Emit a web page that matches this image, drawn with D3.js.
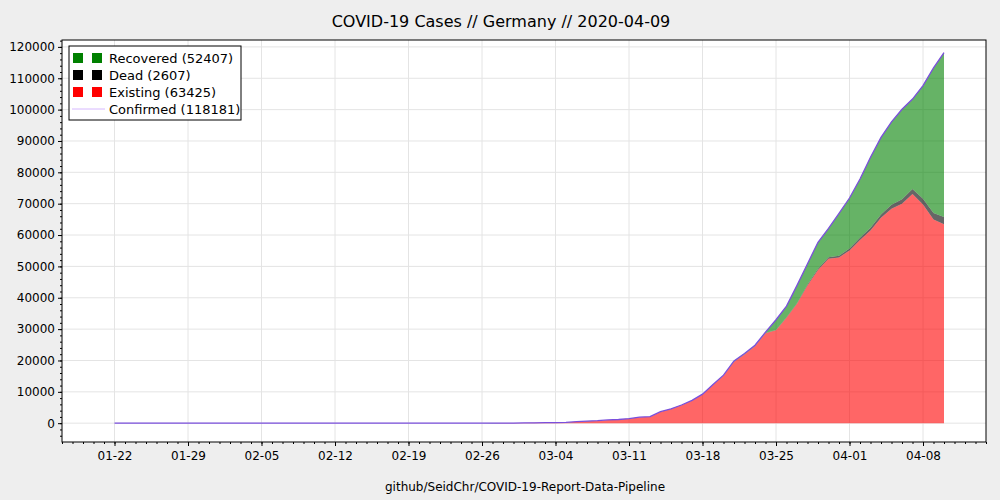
<!DOCTYPE html>
<html><head><meta charset="utf-8">
<script src="https://cdn.jsdelivr.net/npm/d3@7"></script>
<style>body{margin:0;background:#eeeeee}text{font-family:"DejaVu Sans",sans-serif}</style>
</head><body><div id="chart"></div>
<script>
var width = 1000, height = 500
var margin = {left: 62, right: 14, top: 40, bottom: 58}

var confirmed = [0,0,0,0,0,1,4,4,4,5,8,10,12,12,12,12,13,13,14,14,16,16,16,16,16,16,16,16,16,16,16,16,16,16,16,17,27,46,48,79,130,159,196,262,482,670,799,1040,1176,1457,1908,2078,3675,4585,5795,7272,9257,12327,15320,19848,22213,24873,29056,32986,37323,43938,50871,57695,62095,66885,71808,77872,84794,91159,96092,100123,103374,107663,113296,118181]
var dead = [0,0,0,0,0,0,0,0,0,0,0,0,0,0,0,0,0,0,0,0,0,0,0,0,0,0,0,0,0,0,0,0,0,0,0,0,0,0,0,0,0,0,0,0,0,0,0,0,0,2,2,3,3,7,9,11,17,24,28,44,67,84,94,123,157,206,267,342,433,533,645,775,920,1107,1275,1444,1584,1810,2016,2349,2607]
var recovered = [0,0,0,0,0,0,0,0,0,0,0,0,0,0,0,0,0,0,0,0,0,1,1,1,1,1,1,1,1,1,1,1,1,14,14,14,15,16,16,16,16,16,16,16,16,16,17,18,18,18,25,25,46,46,46,67,67,105,113,180,233,266,266,3243,3547,5673,6658,8481,9211,13500,16100,18700,22440,24575,26400,28700,28700,36081,46300,52407]
var start = new Date(2020, 0, 22)
var dates = confirmed.map((d, i) => d3.timeDay.offset(start, i))
var rows = dates.map((d, i) => ({date: d, existing: confirmed[i] - dead[i] - recovered[i], dead: dead[i], recovered: recovered[i], confirmed: confirmed[i]}))
var keys = ["existing", "dead", "recovered"]
var colors = {existing: "rgba(255,0,0,0.6)", dead: "rgba(0,0,0,0.6)", recovered: "rgba(0,128,0,0.6)"}

var svg = d3.select("#chart").append("svg").attr("width", width).attr("height", height)
svg.append("rect").attr("width", width).attr("height", height).attr("fill", "#eeeeee")
var pw = width - margin.left - margin.right, ph = height - margin.top - margin.bottom
var g = svg.append("g").attr("transform", `translate(${margin.left},${margin.top})`)
g.append("rect").attr("width", pw).attr("height", ph).attr("fill", "#fff")

var x = d3.scaleTime().domain([d3.timeDay.offset(start, -4.4), d3.timeDay.offset(start, 83.4)]).range([0, pw])
var y = d3.scaleLinear().domain([-6000, 122200]).range([ph, 0])

var xt = d3.timeDay.range(start, new Date(2020, 3, 10), 7)
g.selectAll(".gx").data(xt).enter().append("line").attr("x1", d => x(d)).attr("x2", d => x(d)).attr("y1", 0).attr("y2", ph).attr("stroke", "#e4e4e4")
var yt = d3.range(0, 120001, 10000)
g.selectAll(".gy").data(yt).enter().append("line").attr("y1", d => y(d)).attr("y2", d => y(d)).attr("x1", 0).attr("x2", pw).attr("stroke", "#e4e4e4")

var stack = d3.stack().keys(keys)(rows)
var area = d3.area().x(d => x(d.data.date)).y0(d => y(d[0])).y1(d => y(d[1]))
g.selectAll(".layer").data(stack).enter().append("path").attr("d", area).attr("fill", d => colors[d.key])
g.append("path").datum(rows).attr("d", d3.line().x(d => x(d.date)).y(d => y(d.confirmed))).attr("fill", "none").attr("stroke", "#7a4fdc").attr("stroke-width", 1.3)

g.append("rect").attr("width", pw).attr("height", ph).attr("fill", "none").attr("stroke", "#000")
var ya = g.append("g").call(d3.axisLeft(y).tickValues(yt).tickFormat(d3.format("d")).tickSize(4))
ya.select(".domain").remove()
ya.selectAll("text").attr("font-size", 12).attr("fill", "#000")
g.append("g").call(d3.axisLeft(y).tickValues(d3.range(-4000, 122001, 2000)).tickFormat("").tickSize(2)).select(".domain").remove()
var xa = g.append("g").attr("transform", `translate(0,${ph})`).call(d3.axisBottom(x).tickValues(xt).tickFormat(d3.timeFormat("%m-%d")).tickSize(4))
xa.select(".domain").remove()
xa.selectAll("text").attr("font-size", 12).attr("fill", "#000").attr("dy", "0.9em")
g.append("g").attr("transform", `translate(0,${ph})`).call(d3.axisBottom(x).ticks(d3.timeDay.every(1)).tickFormat("").tickSize(2)).select(".domain").remove()

svg.append("text").attr("x", width / 2 + 1).attr("y", 27).attr("text-anchor", "middle").attr("font-size", 16).text("COVID-19 Cases // Germany // 2020-04-09")
svg.append("text").attr("x", 525).attr("y", 491).attr("text-anchor", "middle").attr("font-size", 12).text("github/SeidChr/COVID-19-Report-Data-Pipeline")

var legendItems = [
  {label: `Recovered (${recovered[recovered.length - 1]})`, color: "green"},
  {label: `Dead (${dead[dead.length - 1]})`, color: "black"},
  {label: `Existing (${rows[rows.length - 1].existing})`, color: "red"},
  {label: `Confirmed (${confirmed[confirmed.length - 1]})`, line: "#d6b8ff"}
]
var lg = svg.append("g").attr("transform", "translate(69,46)")
lg.append("rect").attr("width", 172).attr("height", 74).attr("fill", "#fff").attr("stroke", "#000")
legendItems.forEach(function(d, i) {
  var yy = 12 + i * 17
  if (d.line) {
    lg.append("line").attr("x1", 3).attr("x2", 36).attr("y1", yy).attr("y2", yy).attr("stroke", d.line)
  } else {
    lg.append("rect").attr("x", 4).attr("y", yy - 5).attr("width", 10).attr("height", 10).attr("fill", d.color)
    lg.append("rect").attr("x", 23).attr("y", yy - 5).attr("width", 10).attr("height", 10).attr("fill", d.color)
  }
  lg.append("text").attr("x", 40).attr("y", yy + 4.5).attr("font-size", 13).text(d.label)
})
</script></body></html>
